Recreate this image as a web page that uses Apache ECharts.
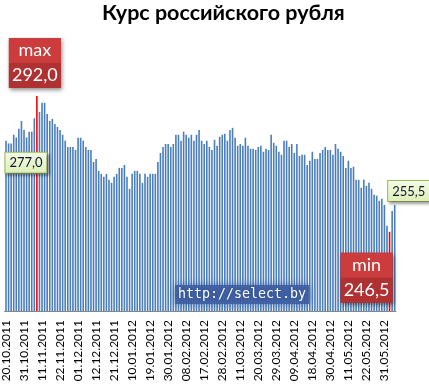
<!DOCTYPE html>
<html>
<head>
<meta charset="utf-8">
<script src="https://cdn.jsdelivr.net/npm/echarts@6/dist/echarts.min.js"></script>
<style>
html,body{margin:0;padding:0;background:#fff;}
#chart{width:429px;height:385px;}
</style>
</head>
<body>
<div id="chart"></div>
<script>
var titleText = 'Курс российского рубля';
var watermark = 'http://select.by';

var categories = [
'20.10.2011','21.10.2011','24.10.2011','25.10.2011','26.10.2011','27.10.2011','28.10.2011',
'31.10.2011','01.11.2011','02.11.2011','03.11.2011','04.11.2011','09.11.2011','10.11.2011',
'11.11.2011','14.11.2011','15.11.2011','16.11.2011','17.11.2011','18.11.2011','21.11.2011',
'22.11.2011','23.11.2011','24.11.2011','25.11.2011','28.11.2011','29.11.2011','30.11.2011',
'01.12.2011','02.12.2011','05.12.2011','06.12.2011','07.12.2011','08.12.2011','09.12.2011',
'12.12.2011','13.12.2011','14.12.2011','15.12.2011','16.12.2011','19.12.2011','20.12.2011',
'21.12.2011','23.12.2011','27.12.2011','28.12.2011','29.12.2011','30.12.2011','04.01.2012',
'10.01.2012','11.01.2012','12.01.2012','13.01.2012','16.01.2012','17.01.2012','18.01.2012',
'19.01.2012','20.01.2012','23.01.2012','24.01.2012','25.01.2012','26.01.2012','27.01.2012',
'30.01.2012','31.01.2012','01.02.2012','02.02.2012','03.02.2012','06.02.2012','07.02.2012',
'08.02.2012','09.02.2012','10.02.2012','13.02.2012','14.02.2012','15.02.2012','16.02.2012',
'17.02.2012','20.02.2012','21.02.2012','22.02.2012','23.02.2012','24.02.2012','27.02.2012',
'28.02.2012','29.02.2012','01.03.2012','02.03.2012','05.03.2012','06.03.2012','07.03.2012',
'11.03.2012','12.03.2012','13.03.2012','14.03.2012','15.03.2012','16.03.2012','19.03.2012',
'20.03.2012','21.03.2012','22.03.2012','23.03.2012','26.03.2012','27.03.2012','28.03.2012',
'29.03.2012','30.03.2012','02.04.2012','03.04.2012','04.04.2012','05.04.2012','06.04.2012',
'09.04.2012','10.04.2012','11.04.2012','12.04.2012','13.04.2012','16.04.2012','17.04.2012',
'18.04.2012','19.04.2012','20.04.2012','23.04.2012','25.04.2012','26.04.2012','27.04.2012',
'30.04.2012','02.05.2012','03.05.2012','04.05.2012','07.05.2012','08.05.2012','10.05.2012',
'11.05.2012','14.05.2012','15.05.2012','16.05.2012','17.05.2012','18.05.2012','21.05.2012',
'22.05.2012','23.05.2012','24.05.2012','25.05.2012','28.05.2012','29.05.2012','30.05.2012',
'31.05.2012','01.06.2012','04.06.2012','05.06.2012','06.06.2012'
];

var rates = [
277.0,276.1,276.1,279.0,278.1,281.0,283.6,280.6,278.1,280.0,
280.0,284.5,292.0,286.6,289.7,289.7,285.9,283.6,284.3,282.6,
281.6,280.6,279.0,277.0,274.9,274.9,274.9,273.9,278.0,278.0,
277.0,274.9,273.9,273.9,269.9,270.9,266.9,265.9,264.9,265.9,
263.9,262.9,264.9,265.9,267.9,267.9,268.9,264.9,260.9,265.9,
266.9,266.9,265.9,262.9,265.9,264.9,265.9,265.9,265.9,269.9,
272.9,274.9,275.9,275.9,274.9,275.9,279.0,279.0,277.0,280.0,
279.0,278.0,279.0,277.0,279.0,280.6,277.0,275.9,277.0,274.9,
273.9,277.3,275.3,278.3,279.0,279.3,277.0,280.6,281.3,278.0,
275.3,275.9,275.3,278.0,275.3,274.3,274.3,273.9,274.9,275.3,
273.3,274.3,273.9,279.0,276.3,275.3,273.3,272.3,277.0,277.0,
274.9,275.9,272.9,275.9,271.9,272.3,272.3,268.9,270.3,273.3,
270.9,270.9,272.9,273.9,274.9,273.9,273.9,272.3,275.9,274.3,
273.3,271.9,267.9,270.3,267.9,268.3,263.9,263.9,261.2,263.9,
261.9,262.9,260.9,258.9,258.6,256.9,257.6,255.5,248.5,246.5,
253.5,255.5
];

var fmt = function (v) { return v.toFixed(1).replace('.', ','); };

var maxIdx = 0, minIdx = 0;
rates.forEach(function (v, i) {
  if (v > rates[maxIdx]) maxIdx = i;
  if (v < rates[minIdx]) minIdx = i;
});
var lastIdx = rates.length - 1;

var redRich = {
  a: {fontFamily: 'Lato', fontSize: 18, color: '#fff', width: 52, height: 25, lineHeight: 25, align: 'center', backgroundColor: '#cc3c3c'},
  b: {fontFamily: 'Lato', fontSize: 18, color: '#fff', width: 52, height: 25, lineHeight: 25, align: 'center', backgroundColor: '#b03131'}
};
function redLabel(name, v, offset, dist) {
  return {
    show: true, position: 'top', distance: dist, offset: offset,
    formatter: '{a|' + name + '}\n{b|' + fmt(v) + '}',
    rich: redRich, backgroundColor: '#b03131', padding: 0,
    shadowBlur: 4, shadowColor: 'rgba(0,0,0,0.45)', shadowOffsetX: 1, shadowOffsetY: 2
  };
}
function greenLabel(v, offset, dist) {
  return {
    show: true, position: 'top', distance: dist, offset: offset,
    formatter: fmt(v),
    fontFamily: 'Lato', fontSize: 13, color: '#10182a',
    backgroundColor: new echarts.graphic.LinearGradient(0, 0, 0, 1, [
      {offset: 0, color: '#f6fbe9'}, {offset: 1, color: '#dcefb6'}
    ]),
    borderColor: '#9bbb59', borderWidth: 1, padding: [4, 4, 3, 4],
    shadowBlur: 3, shadowColor: 'rgba(0,0,0,0.35)', shadowOffsetX: 2, shadowOffsetY: 2
  };
}

var seriesData = rates.map(function (v, i) {
  var d = {value: v};
  if (i === maxIdx) { d.itemStyle = {color: '#ff0000'}; d.label = redLabel('max', v, [-2, 0], 8); }
  else if (i === minIdx) { d.itemStyle = {color: '#ff0000'}; d.label = redLabel('min', v, [-23, 71], 0); }
  else if (i === 0) { d.label = greenLabel(v, [20, 32], 0); }
  else if (i === lastIdx) { d.label = greenLabel(v, [14, 0], 4); }
  return d;
});

var chart = echarts.init(document.getElementById('chart'), null, {renderer: 'canvas'});
chart.setOption({
  animation: false,
  backgroundColor: '#fff',
  title: {
    text: titleText, left: 97, top: -3,
    textStyle: {fontFamily: 'Lato', fontWeight: 'bold', fontSize: 21.5, color: '#000'}
  },
  grid: {left: 4, width: 392, top: 72, height: 239},
  xAxis: {
    type: 'category', data: categories,
    axisLine: {lineStyle: {color: '#868686', width: 1}},
    axisTick: {show: false},
    axisLabel: {interval: 6, rotate: 90, margin: 9, fontFamily: 'Lato', fontSize: 12, color: '#000'}
  },
  yAxis: {type: 'value', min: 220, max: 300, show: false, splitLine: {show: false}},
  series: [{
    type: 'bar', data: seriesData, barWidth: 1.6,
    itemStyle: {color: '#4a7ebb'}, z: 2
  }],
  graphic: [{
    type: 'text', left: 175, top: 285, z: 100,
    style: {
      text: watermark, fontFamily: 'DejaVu Sans Mono', fontSize: 13.3, fill: '#ffffff',
      backgroundColor: 'rgba(60,92,160,0.85)', padding: [3, 3, 3, 3],
      shadowBlur: 7, shadowColor: 'rgba(60,92,160,0.9)',
      textShadowBlur: 3, textShadowColor: 'rgba(40,70,140,1)'
    }
  }]
});
</script>
</body>
</html>
